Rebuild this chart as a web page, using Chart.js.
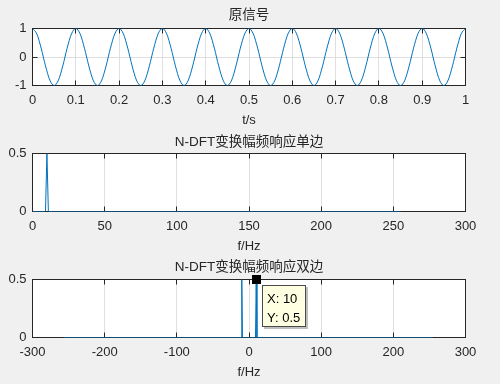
<!DOCTYPE html>
<html>
<head>
<meta charset="utf-8">
<script src="https://cdn.jsdelivr.net/npm/chart.js@4.4.1/dist/chart.umd.min.js"></script>
<style>
  html, body { margin: 0; padding: 0; background: #f0f0f0; }
  #fig { position: relative; width: 500px; height: 384px; overflow: hidden; }
  #fig canvas { position: absolute; left: 0; top: 0; }
</style>
</head>
<body>
<div id="fig">
  <canvas id="c1" width="500" height="384"></canvas>
  <canvas id="c2" width="500" height="384"></canvas>
  <canvas id="c3" width="500" height="384"></canvas>
</div>
<script>
// ---- data ----
const tSec = [
  0, 0.01, 0.02, 0.03, 0.04, 0.05, 0.06, 0.07, 0.08, 0.09,
  0.1, 0.11, 0.12, 0.13, 0.14, 0.15, 0.16, 0.17, 0.18, 0.19,
  0.2, 0.21, 0.22, 0.23, 0.24, 0.25, 0.26, 0.27, 0.28, 0.29,
  0.3, 0.31, 0.32, 0.33, 0.34, 0.35, 0.36, 0.37, 0.38, 0.39,
  0.4, 0.41, 0.42, 0.43, 0.44, 0.45, 0.46, 0.47, 0.48, 0.49,
  0.5, 0.51, 0.52, 0.53, 0.54, 0.55, 0.56, 0.57, 0.58, 0.59,
  0.6, 0.61, 0.62, 0.63, 0.64, 0.65, 0.66, 0.67, 0.68, 0.69,
  0.7, 0.71, 0.72, 0.73, 0.74, 0.75, 0.76, 0.77, 0.78, 0.79,
  0.8, 0.81, 0.82, 0.83, 0.84, 0.85, 0.86, 0.87, 0.88, 0.89,
  0.9, 0.91, 0.92, 0.93, 0.94, 0.95, 0.96, 0.97, 0.98, 0.99,
  1
];
const signal = [
  1, 0.81, 0.31, -0.31, -0.81, -1, -0.81, -0.31, 0.31, 0.81,
  1, 0.81, 0.31, -0.31, -0.81, -1, -0.81, -0.31, 0.31, 0.81,
  1, 0.81, 0.31, -0.31, -0.81, -1, -0.81, -0.31, 0.31, 0.81,
  1, 0.81, 0.31, -0.31, -0.81, -1, -0.81, -0.31, 0.31, 0.81,
  1, 0.81, 0.31, -0.31, -0.81, -1, -0.81, -0.31, 0.31, 0.81,
  1, 0.81, 0.31, -0.31, -0.81, -1, -0.81, -0.31, 0.31, 0.81,
  1, 0.81, 0.31, -0.31, -0.81, -1, -0.81, -0.31, 0.31, 0.81,
  1, 0.81, 0.31, -0.31, -0.81, -1, -0.81, -0.31, 0.31, 0.81,
  1, 0.81, 0.31, -0.31, -0.81, -1, -0.81, -0.31, 0.31, 0.81,
  1, 0.81, 0.31, -0.31, -0.81, -1, -0.81, -0.31, 0.31, 0.81,
  1
];

const freqOne = [0, 9, 10, 11, 255];
const magOne  = [0, 0, 0.5, 0, 0];

const freqTwo = [-256, -11, -10, -9, 9, 10, 11, 255];
const magTwo  = [0, 0, 0.5, 0, 0, 0.5, 0, 0];

const tTicks    = [0, 0.1, 0.2, 0.3, 0.4, 0.5, 0.6, 0.7, 0.8, 0.9, 1];
const sigTicks  = [-1, 0, 1];
const fOneTicks = [0, 50, 100, 150, 200, 250, 300];
const fTwoTicks = [-300, -200, -100, 0, 100, 200, 300];
const magTicks  = [0, 0.5];

const tipX = 10;
const tipY = 0.5;

// ---- style ----
const BLUE = "#0072bd";
const AXC  = "#262626";
const GRID = "#dfdfdf";
const TICKFONT = { family: "'Liberation Sans', Arial, sans-serif", size: 13 };
const LEFT = 32.5;

// axes box, inward tick marks, title + xlabel
const frame = {
  id: "frame",
  beforeDraw(chart) {
    const a = chart.chartArea, ctx = chart.ctx;
    ctx.save();
    ctx.fillStyle = "#ffffff";
    ctx.fillRect(a.left, a.top, a.right - a.left, a.bottom - a.top);
    ctx.restore();
  },
  beforeDatasetsDraw(chart) {
    const a = chart.chartArea, ctx = chart.ctx;
    const xs = chart.scales.x, ys = chart.scales.y;
    const TL = 5;
    ctx.save();
    ctx.strokeStyle = AXC;
    ctx.lineWidth = 1;
    ctx.beginPath();
    xs.ticks.forEach(t => {
      const p = Math.round(xs.getPixelForValue(t.value) - 0.5) + 0.5;
      ctx.moveTo(p, a.top); ctx.lineTo(p, a.top + TL);
      ctx.moveTo(p, a.bottom); ctx.lineTo(p, a.bottom - TL);
    });
    ys.ticks.forEach(t => {
      const p = Math.round(ys.getPixelForValue(t.value) - 0.5) + 0.5;
      ctx.moveTo(a.left, p); ctx.lineTo(a.left + TL, p);
      ctx.moveTo(a.right, p); ctx.lineTo(a.right - TL, p);
    });
    ctx.stroke();
    ctx.strokeRect(a.left, a.top, a.right - a.left, a.bottom - a.top);
    ctx.restore();
  },
  afterDraw(chart, args, opts) {
    const a = chart.chartArea, ctx = chart.ctx;
    const cx = (a.left + a.right) / 2;
    ctx.save();
    ctx.fillStyle = AXC;
    ctx.textAlign = "center";
    ctx.textBaseline = "middle";
    ctx.font = "13.5px 'Liberation Sans', 'Noto Sans CJK SC', sans-serif";
    ctx.fillText(opts.title, cx, a.top - opts.titleGap);
    ctx.font = "13px 'Liberation Sans', Arial, sans-serif";
    ctx.fillText(opts.xlabel, cx, a.bottom + 35);
    ctx.restore();
  }
};

// MATLAB style data tip
const dataTip = {
  id: "dataTip",
  afterDatasetsDraw(chart, args, opts) {
    if (!opts || opts.x === undefined) return;
    const ctx = chart.ctx;
    const px = chart.scales.x.getPixelForValue(opts.x);
    const py = chart.scales.y.getPixelForValue(opts.y);
    ctx.save();
    ctx.fillStyle = "#000000";
    ctx.fillRect(Math.round(px - 4.5), Math.round(py - 4.5), 9, 9);

    const lines = ["X: " + opts.x, "Y: " + opts.y];
    ctx.font = "13px 'Liberation Sans', Arial, sans-serif";
    const w = Math.ceil(Math.max(...lines.map(s => ctx.measureText(s).width))) + 10;
    const h = 42;
    const bx = Math.round(px + 6), by = Math.round(py + 5);
    ctx.fillStyle = "rgba(0,0,0,0.25)";
    ctx.fillRect(bx + 2, by + 2, w, h);
    ctx.fillStyle = "#ffffe1";
    ctx.fillRect(bx, by, w, h);
    ctx.strokeStyle = "#4a4a4a";
    ctx.lineWidth = 1;
    ctx.strokeRect(bx + 0.5, by + 0.5, w - 1, h - 1);
    ctx.fillStyle = "#000000";
    ctx.textAlign = "left";
    ctx.textBaseline = "middle";
    ctx.fillText(lines[0], bx + 5, by + 14.5);
    ctx.fillText(lines[1], bx + 5, by + 33);
    ctx.restore();
  }
};

function axis(min, max, tickList, isX, size, pad) {
  return {
    type: "linear",
    min: min,
    max: max,
    afterBuildTicks: s => { s.ticks = tickList.map(v => ({ value: v })); },
    afterFit: s => { if (isX) s.height = size; else s.width = size; },
    grid: { color: GRID, drawTicks: false, lineWidth: 1 },
    border: { display: false },
    ticks: {
      autoSkip: false, maxRotation: 0, minRotation: 0,
      color: AXC, font: TICKFONT, padding: pad,
      callback: v => String(v)
    }
  };
}

function makeChart(id, xs, ys, xr, yr, xt, yt, padTop, padBottom, title, xlabel, titleGap, smooth, tip) {
  const pts = xs.map((x, i) => ({ x: x, y: ys[i] }));
  return new Chart(document.getElementById(id), {
    type: "line",
    data: {
      datasets: [{
        data: pts,
        borderColor: BLUE,
        borderWidth: 1,
        pointRadius: 0,
        fill: false,
        cubicInterpolationMode: smooth ? "monotone" : "default",
        tension: 0
      }]
    },
    options: {
      responsive: false,
      animation: false,
      devicePixelRatio: 1,
      layout: { padding: { left: 0, right: 34.5, top: padTop, bottom: 0 } },
      scales: {
        x: axis(xr[0], xr[1], xt, true, padBottom, 7),
        y: axis(yr[0], yr[1], yt, false, LEFT, 6)
      },
      plugins: {
        legend: { display: false },
        tooltip: { enabled: false },
        frame: { title: title, xlabel: xlabel, titleGap: titleGap },
        dataTip: tip || {}
      }
    },
    plugins: [frame, dataTip]
  });
}

makeChart("c1", tSec, signal, [0, 1], [-1, 1], tTicks, sigTicks,
  28.5, 298.5, "原信号", "t/s", 13.5, true, null);
makeChart("c2", freqOne, magOne, [0, 300], [0, 0.5], fOneTicks, magTicks,
  153.5, 172.5, "N-DFT变换幅频响应单边", "f/Hz", 11, false, null);
makeChart("c3", freqTwo, magTwo, [-300, 300], [0, 0.5], fTwoTicks, magTicks,
  279.5, 46.5, "N-DFT变换幅频响应双边", "f/Hz", 12, false, { x: tipX, y: tipY });
</script>
</body>
</html>
